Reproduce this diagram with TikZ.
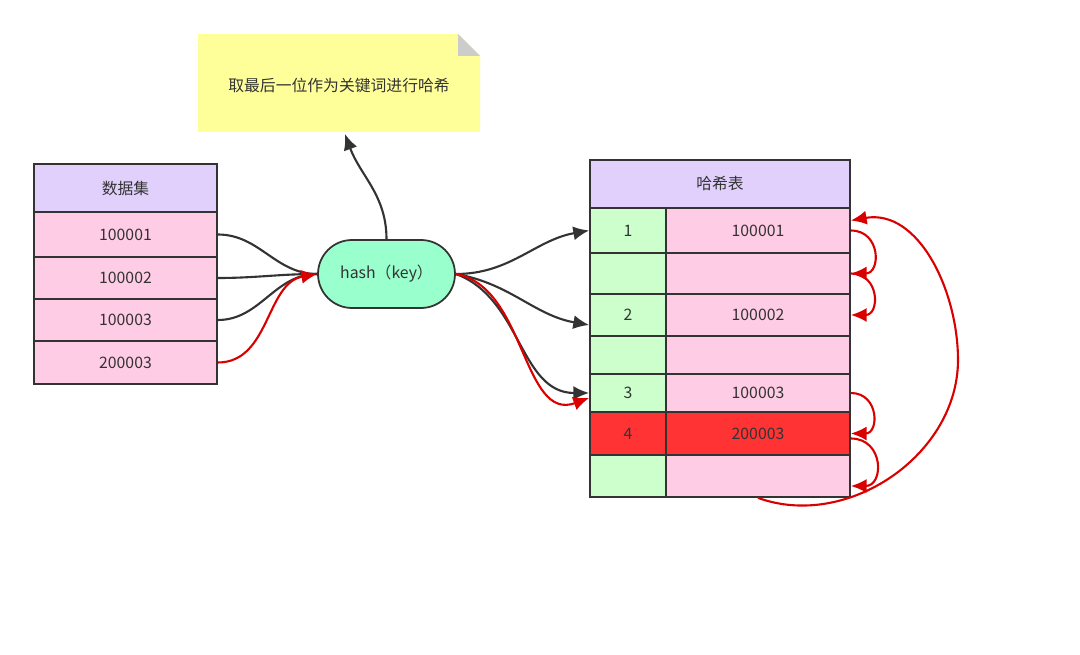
\documentclass[tikz,border=0pt]{standalone}
\usepackage{fontspec}
\setmainfont{Noto Sans CJK SC}
\usetikzlibrary{positioning,arrows.meta,shapes.misc}
\definecolor{head}{HTML}{E1D0FC}
\definecolor{cell}{HTML}{FFCCE6}
\definecolor{idx}{HTML}{CCFFCC}
\definecolor{hot}{HTML}{FF3333}
\definecolor{mint}{HTML}{99FFCC}
\definecolor{memo}{HTML}{FFFF99}
\definecolor{ln}{HTML}{333333}
\begin{document}
\begin{tikzpicture}[x=0.02cm,y=-0.02cm,
  box/.style = {draw=ln, line width=1pt, inner sep=0pt, font=\fontsize{9}{9}\selectfont, text=ln},
  go/.style = {-{Latex[length=9pt,width=8pt]}, line width=1.2pt, draw=ln},
  back/.style = {-{Latex[length=9pt,width=8pt]}, line width=1.2pt, draw=red!85!black}]
  \useasboundingbox (0,0) rectangle (1080,655);
  % note
  \fill[memo] (198,34) -- (458,34) -- (480,56) -- (480,132) -- (198,132) -- cycle;
  \fill[black!20] (458,34) -- (480,56) -- (458,56) -- cycle;
  \node[font=\fontsize{9}{9}\selectfont, text=ln] (memo) at (339,85) {取最后一位作为关键词进行哈希};
  \coordinate (memoB) at (345,134);
  % data set
  \node[box, fill=head, minimum width=3.66cm, minimum height=0.96cm] (ds) at (125.5,188) {数据集};
  \node[box, fill=cell, minimum width=3.66cm, minimum height=0.9cm] (d1) at (125.5,234.5) {100001};
  \node[box, fill=cell, minimum width=3.66cm, minimum height=0.84cm] (d2) at (125.5,278) {100002};
  \node[box, fill=cell, minimum width=3.66cm, minimum height=0.84cm] (d3) at (125.5,320) {100003};
  \node[box, fill=cell, minimum width=3.66cm, minimum height=0.86cm] (d4) at (125.5,362.5) {200003};
  % hash
  \node[box, fill=mint, rounded rectangle, minimum width=2.74cm, minimum height=1.36cm] (hash) at (386.5,274) {hash（key）};
  % hash table
  \node[box, fill=head, minimum width=5.2cm, minimum height=0.96cm] (ht) at (720,184) {哈希表};
  \node[box, fill=idx, minimum width=1.52cm, minimum height=0.9cm] (k1) at (628,230.5) {1};
  \node[box, fill=cell, minimum width=3.68cm, minimum height=0.9cm] (v1) at (758,230.5) {100001};
  \node[box, fill=idx, minimum width=1.52cm, minimum height=0.82cm] (k2) at (628,273.5) {};
  \node[box, fill=cell, minimum width=3.68cm, minimum height=0.82cm] (v2) at (758,273.5) {};
  \node[box, fill=idx, minimum width=1.52cm, minimum height=0.84cm] (k3) at (628,315) {2};
  \node[box, fill=cell, minimum width=3.68cm, minimum height=0.84cm] (v3) at (758,315) {100002};
  \node[box, fill=idx, minimum width=1.52cm, minimum height=0.76cm] (k4) at (628,355) {};
  \node[box, fill=cell, minimum width=3.68cm, minimum height=0.76cm] (v4) at (758,355) {};
  \node[box, fill=idx, minimum width=1.52cm, minimum height=0.76cm] (k5) at (628,393) {3};
  \node[box, fill=cell, minimum width=3.68cm, minimum height=0.76cm] (v5) at (758,393) {100003};
  \node[box, fill=hot, minimum width=1.52cm, minimum height=0.86cm] (k6) at (628,433.5) {4};
  \node[box, fill=hot, minimum width=3.68cm, minimum height=0.86cm] (v6) at (758,433.5) {200003};
  \node[box, fill=idx, minimum width=1.52cm, minimum height=0.84cm] (k7) at (628,476) {};
  \node[box, fill=cell, minimum width=3.68cm, minimum height=0.84cm] (v7) at (758,476) {};
  % data -> hash
  \draw[ln, line width=1.2pt] (d1.east) to[out=0, in=180] (hash.west);
  \draw[ln, line width=1.2pt] (d2.east) to[out=0, in=180] (hash.west);
  \draw[ln, line width=1.2pt] (d3.east) to[out=0, in=180] (hash.west);
  \draw[back] (d4.east) to[out=0, in=190] (hash.west);
  \draw[go] (hash.north) to[out=90, in=-70] (memoB);
  % hash -> table
  \draw[go] (hash.east) to[out=0, in=190] (k1.west);
  \draw[go] (hash.east) to[out=-10, in=170] ([yshift=-0.2cm]k3.west);
  \draw[go] (hash.east) to[out=-20, in=180] (k5.west);
  \draw[back] (hash.east) to[out=-10, in=200] ([yshift=-0.1cm]k5.west);
  % probing
  \draw[back] (v1.east) to[out=0, in=0, looseness=1.8] (v2.east);
  \draw[back] (v2.east) to[out=0, in=0, looseness=1.8] (v3.east);
  \draw[back] (v5.east) to[out=0, in=0, looseness=1.8] (v6.east);
  \draw[back] ([yshift=-0.1cm]v6.east) to[out=0, in=0, looseness=1.8] ([yshift=-0.2cm]v7.east);
  \draw[back] (v7.south) to[out=-20, in=-90] (958,360) to[out=90, in=10] ([yshift=0.2cm]v1.east);
\end{tikzpicture}
\end{document}
